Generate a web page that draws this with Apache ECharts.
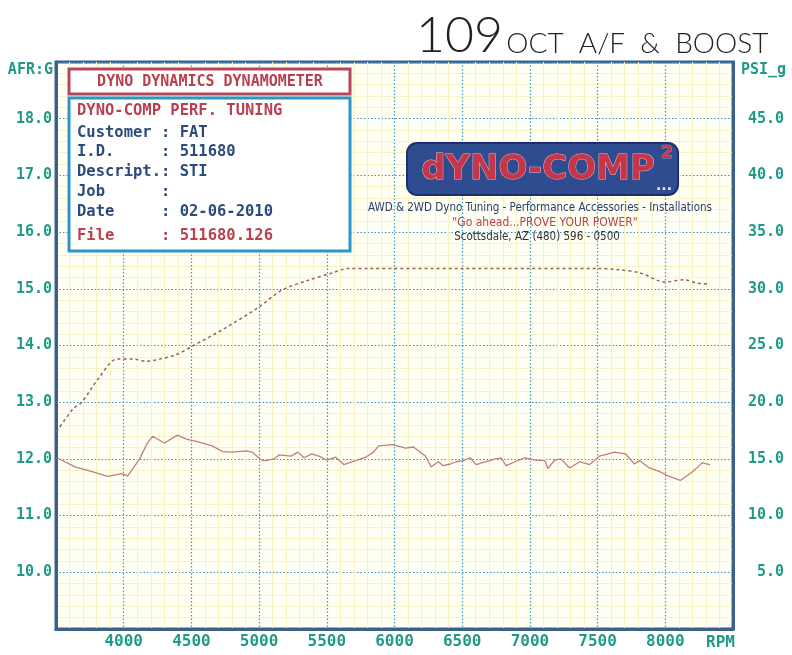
<!DOCTYPE html>
<html>
<head>
<meta charset="utf-8">
<script src="https://cdn.jsdelivr.net/npm/echarts@6/dist/echarts.min.js"></script>
<style>
html,body{margin:0;padding:0;background:#fff;}
#c{width:792px;height:655px;}
</style>
</head>
<body>
<div id="c"></div>
<script>
// ---- data ----
const afrRpm = [3507,3640,3772,3882,3985,4030,4118,4170,4213,4301,4397,4463,4537,4654,4728,4802,4904,4949,5015,5051,5110,5147,5235,5287,5331,5390,5441,5500,5566,5625,5713,5787,5846,5882,5985,6081,6140,6228,6272,6324,6360,6412,6456,6507,6559,6603,6676,6743,6787,6824,6890,6963,7037,7110,7132,7184,7228,7294,7367,7441,7515,7625,7706,7772,7809,7882,7963,8029,8110,8199,8272,8330];
const afrValues = [12.02,11.86,11.77,11.69,11.74,11.70,12.00,12.26,12.40,12.28,12.42,12.35,12.31,12.23,12.13,12.12,12.14,12.12,11.98,11.97,12.00,12.07,12.05,12.12,12.02,12.09,12.05,11.98,12.03,11.90,11.97,12.03,12.12,12.23,12.25,12.19,12.21,12.05,11.86,11.95,11.88,11.91,11.95,11.97,12.02,11.90,11.95,12.00,12.02,11.88,11.95,12.02,11.98,11.97,11.83,11.98,12.00,11.84,11.95,11.90,12.05,12.12,12.09,11.91,11.97,11.84,11.77,11.69,11.62,11.77,11.93,11.90];
const boostRpm = [3505,3625,3690,3820,3950,4080,4170,4265,4390,4500,4730,5000,5170,5350,5540,5660,5800,6500,7000,7500,7640,7815,7995,8140,8235,8330];
const boostPsi = [17.4,19.4,20.0,22.2,23.8,23.8,23.6,23.8,24.2,24.9,26.4,28.4,29.9,30.7,31.4,31.8,31.8,31.8,31.8,31.8,31.7,31.4,30.6,30.8,30.5,30.4];

const rpmTicks = {min:3500, max:8500, step:500};
const afrTicks = {min:9, max:19, step:1};
const psiTicks = {min:0, max:50, step:5};

const infoLines = [
  ['DYNO-COMP PERF. TUNING', '#b8404f'],
  ['Customer : FAT', '#2c4b7a'],
  ['I.D.     : 511680', '#2c4b7a'],
  ['Descript.: STI', '#2c4b7a'],
  ['Job      :', '#2c4b7a'],
  ['Date     : 02-06-2010', '#2c4b7a'],
  ['File     : 511680.126', '#b8404f']
];
const infoY = [111,133,152,172,192,212,236];

const teal = '#1f9a88';
const mono = '"DejaVu Sans Mono", "Liberation Mono", monospace';

const chart = echarts.init(document.getElementById('c'));

const graphics = [];
// handwritten title
graphics.push({type:'text', left:416, top:11, z:10, style:{
  text:'{a|109} {b|OCT  A/F  &  BOOST}',
  rich:{a:{fontSize:50, fontFamily:'Lato', fontWeight:300, fill:'#222'}, b:{fontSize:28, fontFamily:'Lato', fontWeight:300, fill:'#222', padding:[16,0,0,0]}}
}});
// box 1
graphics.push({type:'rect', z:10, shape:{x:69,y:69,width:281,height:25}, style:{fill:'#fff', stroke:'#b5475a', lineWidth:3}});
graphics.push({type:'text', z:11, x:210, y:82, style:{text:'DYNO DYNAMICS DYNAMOMETER', fill:'#b8404f', font:'bold 15px '+mono, align:'center', textAlign:'center', verticalAlign:'middle', textVerticalAlign:'middle'}});
// box 2
graphics.push({type:'rect', z:10, shape:{x:69,y:98,width:281,height:153}, style:{fill:'#fff', stroke:'#2d95cc', lineWidth:3}});
infoLines.forEach((l,i)=>{
  graphics.push({type:'text', z:11, x:77, y:infoY[i], style:{text:l[0], fill:l[1], font:'bold 15.5px '+mono, align:'left', textAlign:'left', verticalAlign:'middle', textVerticalAlign:'middle'}});
});
// logo
graphics.push({type:'rect', z:10, shape:{x:407,y:143,width:271,height:52,r:10}, style:{fill:'#2e4c8f', stroke:'#1e2f6a', lineWidth:2}});
graphics.push({type:'text', z:11, x:538, y:170, style:{text:'dYNO-COMP', fill:'#c4364a', stroke:'#f0b4bc', lineWidth:1, font:'bold 34px "DejaVu Sans"', align:'center', textAlign:'center', verticalAlign:'middle', textVerticalAlign:'middle'}});
graphics.push({type:'text', z:11, x:667, y:153, style:{text:'2', fill:'#c4364a', stroke:'#f0b4bc', lineWidth:0.5, font:'bold 18px "DejaVu Sans"', align:'center', textAlign:'center', verticalAlign:'middle', textVerticalAlign:'middle'}});
graphics.push({type:'text', z:11, x:664, y:186, style:{text:'...', fill:'#e8e8f0', font:'bold 14px "DejaVu Sans"', align:'center', textAlign:'center', verticalAlign:'middle', textVerticalAlign:'middle'}});
graphics.push({type:'text', z:11, x:540, y:208, style:{text:'AWD & 2WD Dyno Tuning - Performance Accessories - Installations', fill:'#2c3f6e', font:'11.5px "DejaVu Sans Condensed", "DejaVu Sans"', align:'center', textAlign:'center', verticalAlign:'middle', textVerticalAlign:'middle'}});
graphics.push({type:'text', z:11, x:545, y:223, style:{text:'"Go ahead...PROVE YOUR POWER"', fill:'#b8404f', font:'12px "DejaVu Sans Condensed", "DejaVu Sans"', align:'center', textAlign:'center', verticalAlign:'middle', textVerticalAlign:'middle'}});
graphics.push({type:'text', z:11, x:537, y:237, style:{text:'Scottsdale, AZ (480) 596 - 0500', fill:'#333', font:'11.5px "DejaVu Sans Condensed", "DejaVu Sans"', align:'center', textAlign:'center', verticalAlign:'middle', textVerticalAlign:'middle'}});

const lbl = {color:teal, fontFamily:mono, fontWeight:'bold', fontSize:15};

chart.setOption({
  animation:false,
  backgroundColor:'#fff',
  grid:{left:56, right:59, top:62, bottom:26, show:true, backgroundColor:'#fffff4', borderColor:'#3c5f8c', borderWidth:3},
  xAxis:{type:'value', min:rpmTicks.min, max:rpmTicks.max, interval:rpmTicks.step,
    name:'RPM', nameLocation:'end', nameGap:2,
    nameTextStyle:Object.assign({}, lbl, {fontSize:16, align:'right', verticalAlign:'top', padding:[6,0,0,0]}),
    axisLine:{show:true, lineStyle:{color:'#3c5f8c', width:3}},
    axisTick:{show:false},
    axisLabel:Object.assign({}, lbl, {fontSize:16, margin:5, formatter:v=> (v===rpmTicks.min||v===rpmTicks.max)?'':String(v)}),
    splitLine:{show:true, lineStyle:{color:'#3a9cc0', type:[1.5,2], width:1.2}},
    minorTick:{show:false, splitNumber:5},
    minorSplitLine:{show:true, lineStyle:{color:'#f5f2c4', width:1}}
  },
  yAxis:[
    {type:'value', min:afrTicks.min, max:afrTicks.max, interval:afrTicks.step,
      name:'AFR:G', nameLocation:'end', nameGap:-8,
      nameTextStyle:Object.assign({}, lbl, {align:'right', verticalAlign:'middle', padding:[0,3,0,0]}),
      axisLine:{show:true, lineStyle:{color:'#3c5f8c', width:3}},
      axisTick:{show:false},
      axisLabel:Object.assign({}, lbl, {margin:4, formatter:v=> (v===afrTicks.min||v===afrTicks.max)?'':v.toFixed(1)}),
      splitLine:{show:true, lineStyle:{color:'#3a8ec8', type:[1.5,2], width:1.2}},
      minorTick:{show:false, splitNumber:5},
      minorSplitLine:{show:true, lineStyle:{color:'#f5f2c4', width:1}}
    },
    {type:'value', min:psiTicks.min, max:psiTicks.max, interval:psiTicks.step, position:'right',
      name:'PSI_g', nameLocation:'end', nameGap:-8,
      nameTextStyle:Object.assign({}, lbl, {align:'left', verticalAlign:'middle', padding:[0,0,0,8]}),
      axisLine:{show:true, lineStyle:{color:'#3c5f8c', width:3}},
      axisTick:{show:false},
      axisLabel:Object.assign({}, lbl, {margin:51, align:'right', formatter:v=> (v===psiTicks.min||v===psiTicks.max)?'':v.toFixed(1)}),
      splitLine:{show:false}
    }
  ],
  series:[
    {type:'line', name:'Boost', yAxisIndex:1, showSymbol:false, smooth:0.3,
      data:boostRpm.map((r,i)=>[r,boostPsi[i]]),
      lineStyle:{color:'#94606a', width:1.5, type:[3,3]}, z:3},
    {type:'line', name:'AFR', yAxisIndex:0, showSymbol:false,
      data:afrRpm.map((r,i)=>[r,afrValues[i]]),
      lineStyle:{color:'#c47c7e', width:1.3}, z:4}
  ],
  graphic:graphics
});
</script>
</body>
</html>
